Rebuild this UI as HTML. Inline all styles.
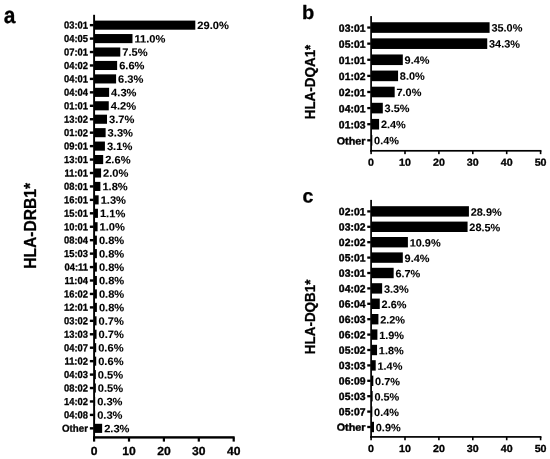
<!DOCTYPE html>
<html><head><meta charset="utf-8"><title>HLA allele frequencies</title>
<style>
html,body{margin:0;padding:0;background:#fff;}
svg{display:block;}
text{font-family:"Liberation Sans",sans-serif;font-weight:bold;fill:#000;stroke:#000;stroke-linejoin:round;}
</style></head><body>
<svg width="550" height="459" viewBox="0 0 550 459">
<rect width="550" height="459" fill="#fff"/>
<g fill="#000">
<rect x="94.10" y="20.60" width="101.21" height="9.10"/>
<rect x="89.85" y="23.95" width="3.80" height="2.4"/>
<text transform="translate(87.95,28.65) skewY(0.2) scale(0.93,1)" font-size="10.1" text-anchor="end" stroke-width="0.3">03:01</text>
<text transform="translate(197.31,28.95) skewY(0.2) scale(1.04,1)" font-size="10.7" stroke-width="0.1">29.0%</text>
<rect x="94.10" y="34.04" width="38.39" height="9.10"/>
<rect x="89.85" y="37.39" width="3.80" height="2.4"/>
<text transform="translate(87.95,42.09) skewY(0.2) scale(0.93,1)" font-size="10.1" text-anchor="end" stroke-width="0.3">04:05</text>
<text transform="translate(134.49,42.39) skewY(0.2) scale(1.04,1)" font-size="10.7" stroke-width="0.1">11.0%</text>
<rect x="94.10" y="47.48" width="26.18" height="9.10"/>
<rect x="89.85" y="50.83" width="3.80" height="2.4"/>
<text transform="translate(87.95,55.53) skewY(0.2) scale(0.93,1)" font-size="10.1" text-anchor="end" stroke-width="0.3">07:01</text>
<text transform="translate(122.27,55.83) skewY(0.2) scale(1.04,1)" font-size="10.7" stroke-width="0.1">7.5%</text>
<rect x="94.10" y="60.92" width="23.03" height="9.10"/>
<rect x="89.85" y="64.27" width="3.80" height="2.4"/>
<text transform="translate(87.95,68.97) skewY(0.2) scale(0.93,1)" font-size="10.1" text-anchor="end" stroke-width="0.3">04:02</text>
<text transform="translate(119.13,69.27) skewY(0.2) scale(1.04,1)" font-size="10.7" stroke-width="0.1">6.6%</text>
<rect x="94.10" y="74.36" width="21.99" height="9.10"/>
<rect x="89.85" y="77.71" width="3.80" height="2.4"/>
<text transform="translate(87.95,82.41) skewY(0.2) scale(0.93,1)" font-size="10.1" text-anchor="end" stroke-width="0.3">04:01</text>
<text transform="translate(118.09,82.71) skewY(0.2) scale(1.04,1)" font-size="10.7" stroke-width="0.1">6.3%</text>
<rect x="94.10" y="87.80" width="15.01" height="9.10"/>
<rect x="89.85" y="91.15" width="3.80" height="2.4"/>
<text transform="translate(87.95,95.85) skewY(0.2) scale(0.93,1)" font-size="10.1" text-anchor="end" stroke-width="0.3">04:04</text>
<text transform="translate(111.11,96.15) skewY(0.2) scale(1.04,1)" font-size="10.7" stroke-width="0.1">4.3%</text>
<rect x="94.10" y="101.24" width="14.66" height="9.10"/>
<rect x="89.85" y="104.59" width="3.80" height="2.4"/>
<text transform="translate(87.95,109.29) skewY(0.2) scale(0.93,1)" font-size="10.1" text-anchor="end" stroke-width="0.3">01:01</text>
<text transform="translate(110.76,109.59) skewY(0.2) scale(1.04,1)" font-size="10.7" stroke-width="0.1">4.2%</text>
<rect x="94.10" y="114.68" width="12.91" height="9.10"/>
<rect x="89.85" y="118.03" width="3.80" height="2.4"/>
<text transform="translate(87.95,122.73) skewY(0.2) scale(0.93,1)" font-size="10.1" text-anchor="end" stroke-width="0.3">13:02</text>
<text transform="translate(109.01,123.03) skewY(0.2) scale(1.04,1)" font-size="10.7" stroke-width="0.1">3.7%</text>
<rect x="94.10" y="128.12" width="11.52" height="9.10"/>
<rect x="89.85" y="131.47" width="3.80" height="2.4"/>
<text transform="translate(87.95,136.17) skewY(0.2) scale(0.93,1)" font-size="10.1" text-anchor="end" stroke-width="0.3">01:02</text>
<text transform="translate(107.62,136.47) skewY(0.2) scale(1.04,1)" font-size="10.7" stroke-width="0.1">3.3%</text>
<rect x="94.10" y="141.56" width="10.82" height="9.10"/>
<rect x="89.85" y="144.91" width="3.80" height="2.4"/>
<text transform="translate(87.95,149.61) skewY(0.2) scale(0.93,1)" font-size="10.1" text-anchor="end" stroke-width="0.3">09:01</text>
<text transform="translate(106.92,149.91) skewY(0.2) scale(1.04,1)" font-size="10.7" stroke-width="0.1">3.1%</text>
<rect x="94.10" y="155.00" width="9.07" height="9.10"/>
<rect x="89.85" y="158.35" width="3.80" height="2.4"/>
<text transform="translate(87.95,163.05) skewY(0.2) scale(0.93,1)" font-size="10.1" text-anchor="end" stroke-width="0.3">13:01</text>
<text transform="translate(105.17,163.35) skewY(0.2) scale(1.04,1)" font-size="10.7" stroke-width="0.1">2.6%</text>
<rect x="94.10" y="168.44" width="6.98" height="9.10"/>
<rect x="89.85" y="171.79" width="3.80" height="2.4"/>
<text transform="translate(87.95,176.49) skewY(0.2) scale(0.93,1)" font-size="10.1" text-anchor="end" stroke-width="0.3">11:01</text>
<text transform="translate(103.08,176.79) skewY(0.2) scale(1.04,1)" font-size="10.7" stroke-width="0.1">2.0%</text>
<rect x="94.10" y="181.88" width="6.28" height="9.10"/>
<rect x="89.85" y="185.23" width="3.80" height="2.4"/>
<text transform="translate(87.95,189.93) skewY(0.2) scale(0.93,1)" font-size="10.1" text-anchor="end" stroke-width="0.3">08:01</text>
<text transform="translate(102.38,190.23) skewY(0.2) scale(1.04,1)" font-size="10.7" stroke-width="0.1">1.8%</text>
<rect x="94.10" y="195.32" width="4.54" height="9.10"/>
<rect x="89.85" y="198.67" width="3.80" height="2.4"/>
<text transform="translate(87.95,203.37) skewY(0.2) scale(0.93,1)" font-size="10.1" text-anchor="end" stroke-width="0.3">16:01</text>
<text transform="translate(100.64,203.67) skewY(0.2) scale(1.04,1)" font-size="10.7" stroke-width="0.1">1.3%</text>
<rect x="94.10" y="208.76" width="3.84" height="9.10"/>
<rect x="89.85" y="212.11" width="3.80" height="2.4"/>
<text transform="translate(87.95,216.81) skewY(0.2) scale(0.93,1)" font-size="10.1" text-anchor="end" stroke-width="0.3">15:01</text>
<text transform="translate(99.94,217.11) skewY(0.2) scale(1.04,1)" font-size="10.7" stroke-width="0.1">1.1%</text>
<rect x="94.10" y="222.20" width="3.49" height="9.10"/>
<rect x="89.85" y="225.55" width="3.80" height="2.4"/>
<text transform="translate(87.95,230.25) skewY(0.2) scale(0.93,1)" font-size="10.1" text-anchor="end" stroke-width="0.3">10:01</text>
<text transform="translate(99.59,230.55) skewY(0.2) scale(1.04,1)" font-size="10.7" stroke-width="0.1">1.0%</text>
<rect x="94.10" y="235.64" width="2.79" height="9.10"/>
<rect x="89.85" y="238.99" width="3.80" height="2.4"/>
<text transform="translate(87.95,243.69) skewY(0.2) scale(0.93,1)" font-size="10.1" text-anchor="end" stroke-width="0.3">08:04</text>
<text transform="translate(98.89,243.99) skewY(0.2) scale(1.04,1)" font-size="10.7" stroke-width="0.1">0.8%</text>
<rect x="94.10" y="249.08" width="2.79" height="9.10"/>
<rect x="89.85" y="252.43" width="3.80" height="2.4"/>
<text transform="translate(87.95,257.13) skewY(0.2) scale(0.93,1)" font-size="10.1" text-anchor="end" stroke-width="0.3">15:03</text>
<text transform="translate(98.89,257.43) skewY(0.2) scale(1.04,1)" font-size="10.7" stroke-width="0.1">0.8%</text>
<rect x="94.10" y="262.52" width="2.79" height="9.10"/>
<rect x="89.85" y="265.87" width="3.80" height="2.4"/>
<text transform="translate(87.95,270.57) skewY(0.2) scale(0.93,1)" font-size="10.1" text-anchor="end" stroke-width="0.3">04:11</text>
<text transform="translate(98.89,270.87) skewY(0.2) scale(1.04,1)" font-size="10.7" stroke-width="0.1">0.8%</text>
<rect x="94.10" y="275.96" width="2.79" height="9.10"/>
<rect x="89.85" y="279.31" width="3.80" height="2.4"/>
<text transform="translate(87.95,284.01) skewY(0.2) scale(0.93,1)" font-size="10.1" text-anchor="end" stroke-width="0.3">11:04</text>
<text transform="translate(98.89,284.31) skewY(0.2) scale(1.04,1)" font-size="10.7" stroke-width="0.1">0.8%</text>
<rect x="94.10" y="289.40" width="2.79" height="9.10"/>
<rect x="89.85" y="292.75" width="3.80" height="2.4"/>
<text transform="translate(87.95,297.45) skewY(0.2) scale(0.93,1)" font-size="10.1" text-anchor="end" stroke-width="0.3">16:02</text>
<text transform="translate(98.89,297.75) skewY(0.2) scale(1.04,1)" font-size="10.7" stroke-width="0.1">0.8%</text>
<rect x="94.10" y="302.84" width="2.79" height="9.10"/>
<rect x="89.85" y="306.19" width="3.80" height="2.4"/>
<text transform="translate(87.95,310.89) skewY(0.2) scale(0.93,1)" font-size="10.1" text-anchor="end" stroke-width="0.3">12:01</text>
<text transform="translate(98.89,311.19) skewY(0.2) scale(1.04,1)" font-size="10.7" stroke-width="0.1">0.8%</text>
<rect x="94.10" y="316.28" width="2.44" height="9.10"/>
<rect x="89.85" y="319.63" width="3.80" height="2.4"/>
<text transform="translate(87.95,324.33) skewY(0.2) scale(0.93,1)" font-size="10.1" text-anchor="end" stroke-width="0.3">03:02</text>
<text transform="translate(98.54,324.63) skewY(0.2) scale(1.04,1)" font-size="10.7" stroke-width="0.1">0.7%</text>
<rect x="94.10" y="329.72" width="2.44" height="9.10"/>
<rect x="89.85" y="333.07" width="3.80" height="2.4"/>
<text transform="translate(87.95,337.77) skewY(0.2) scale(0.93,1)" font-size="10.1" text-anchor="end" stroke-width="0.3">13:03</text>
<text transform="translate(98.54,338.07) skewY(0.2) scale(1.04,1)" font-size="10.7" stroke-width="0.1">0.7%</text>
<rect x="94.10" y="343.16" width="2.09" height="9.10"/>
<rect x="89.85" y="346.51" width="3.80" height="2.4"/>
<text transform="translate(87.95,351.21) skewY(0.2) scale(0.93,1)" font-size="10.1" text-anchor="end" stroke-width="0.3">04:07</text>
<text transform="translate(98.19,351.51) skewY(0.2) scale(1.04,1)" font-size="10.7" stroke-width="0.1">0.6%</text>
<rect x="94.10" y="356.60" width="2.09" height="9.10"/>
<rect x="89.85" y="359.95" width="3.80" height="2.4"/>
<text transform="translate(87.95,364.65) skewY(0.2) scale(0.93,1)" font-size="10.1" text-anchor="end" stroke-width="0.3">11:02</text>
<text transform="translate(98.19,364.95) skewY(0.2) scale(1.04,1)" font-size="10.7" stroke-width="0.1">0.6%</text>
<rect x="94.10" y="370.04" width="1.75" height="9.10"/>
<rect x="89.85" y="373.39" width="3.80" height="2.4"/>
<text transform="translate(87.95,378.09) skewY(0.2) scale(0.93,1)" font-size="10.1" text-anchor="end" stroke-width="0.3">04:03</text>
<text transform="translate(97.84,378.39) skewY(0.2) scale(1.04,1)" font-size="10.7" stroke-width="0.1">0.5%</text>
<rect x="94.10" y="383.48" width="1.75" height="9.10"/>
<rect x="89.85" y="386.83" width="3.80" height="2.4"/>
<text transform="translate(87.95,391.53) skewY(0.2) scale(0.93,1)" font-size="10.1" text-anchor="end" stroke-width="0.3">08:02</text>
<text transform="translate(97.84,391.83) skewY(0.2) scale(1.04,1)" font-size="10.7" stroke-width="0.1">0.5%</text>
<rect x="94.10" y="396.92" width="1.05" height="9.10"/>
<rect x="89.85" y="400.27" width="3.80" height="2.4"/>
<text transform="translate(87.95,404.97) skewY(0.2) scale(0.93,1)" font-size="10.1" text-anchor="end" stroke-width="0.3">14:02</text>
<text transform="translate(97.15,405.27) skewY(0.2) scale(1.04,1)" font-size="10.7" stroke-width="0.1">0.3%</text>
<rect x="94.10" y="410.36" width="1.05" height="9.10"/>
<rect x="89.85" y="413.71" width="3.80" height="2.4"/>
<text transform="translate(87.95,418.41) skewY(0.2) scale(0.93,1)" font-size="10.1" text-anchor="end" stroke-width="0.3">04:08</text>
<text transform="translate(97.15,418.71) skewY(0.2) scale(1.04,1)" font-size="10.7" stroke-width="0.1">0.3%</text>
<rect x="94.10" y="423.80" width="8.03" height="9.10"/>
<rect x="89.85" y="427.15" width="3.80" height="2.4"/>
<text transform="translate(87.95,431.85) skewY(0.2) scale(0.96255,1)" font-size="10.1" text-anchor="end" stroke-width="0.3">Other</text>
<text transform="translate(104.13,432.15) skewY(0.2) scale(1.04,1)" font-size="10.7" stroke-width="0.1">2.3%</text>
<rect x="93.15" y="14.80" width="1.90" height="423.80"/>
<rect x="93.15" y="436.20" width="141.50" height="2.40"/>
<rect x="93.00" y="437.40" width="2.2" height="4.20"/>
<text transform="translate(94.10,454.90) skewY(0.2) scale(1.03,1)" font-size="11.8" text-anchor="middle" stroke-width="0.3">0</text>
<rect x="127.90" y="437.40" width="2.2" height="4.20"/>
<text transform="translate(129.00,454.90) skewY(0.2) scale(1.03,1)" font-size="11.8" text-anchor="middle" stroke-width="0.3">10</text>
<rect x="162.80" y="437.40" width="2.2" height="4.20"/>
<text transform="translate(163.90,454.90) skewY(0.2) scale(1.03,1)" font-size="11.8" text-anchor="middle" stroke-width="0.3">20</text>
<rect x="197.70" y="437.40" width="2.2" height="4.20"/>
<text transform="translate(198.80,454.90) skewY(0.2) scale(1.03,1)" font-size="11.8" text-anchor="middle" stroke-width="0.3">30</text>
<rect x="232.60" y="437.40" width="2.2" height="4.20"/>
<text transform="translate(233.70,454.90) skewY(0.2) scale(1.03,1)" font-size="11.8" text-anchor="middle" stroke-width="0.3">40</text>
<rect x="371.10" y="22.25" width="118.50" height="10.60"/>
<rect x="367.25" y="26.40" width="3.50" height="2.3"/>
<text transform="translate(365.45,31.75) skewY(0.2)" font-size="10.4" text-anchor="end" stroke-width="0.4">03:01</text>
<text transform="translate(491.40,31.45) skewY(0.2) scale(1.03,1)" font-size="10.6" stroke-width="0.1">35.0%</text>
<rect x="371.10" y="38.36" width="116.13" height="10.60"/>
<rect x="367.25" y="42.51" width="3.50" height="2.3"/>
<text transform="translate(365.45,47.86) skewY(0.2)" font-size="10.4" text-anchor="end" stroke-width="0.4">05:01</text>
<text transform="translate(489.03,47.56) skewY(0.2) scale(1.03,1)" font-size="10.6" stroke-width="0.1">34.3%</text>
<rect x="371.10" y="54.47" width="31.72" height="10.60"/>
<rect x="367.25" y="58.62" width="3.50" height="2.3"/>
<text transform="translate(365.45,63.97) skewY(0.2)" font-size="10.4" text-anchor="end" stroke-width="0.4">01:01</text>
<text transform="translate(404.62,63.67) skewY(0.2) scale(1.03,1)" font-size="10.6" stroke-width="0.1">9.4%</text>
<rect x="371.10" y="70.58" width="26.97" height="10.60"/>
<rect x="367.25" y="74.73" width="3.50" height="2.3"/>
<text transform="translate(365.45,80.08) skewY(0.2)" font-size="10.4" text-anchor="end" stroke-width="0.4">01:02</text>
<text transform="translate(399.87,79.78) skewY(0.2) scale(1.03,1)" font-size="10.6" stroke-width="0.1">8.0%</text>
<rect x="371.10" y="86.69" width="23.58" height="10.60"/>
<rect x="367.25" y="90.84" width="3.50" height="2.3"/>
<text transform="translate(365.45,96.19) skewY(0.2)" font-size="10.4" text-anchor="end" stroke-width="0.4">02:01</text>
<text transform="translate(396.48,95.89) skewY(0.2) scale(1.03,1)" font-size="10.6" stroke-width="0.1">7.0%</text>
<rect x="371.10" y="102.80" width="11.71" height="10.60"/>
<rect x="367.25" y="106.95" width="3.50" height="2.3"/>
<text transform="translate(365.45,112.30) skewY(0.2)" font-size="10.4" text-anchor="end" stroke-width="0.4">04:01</text>
<text transform="translate(384.62,112.00) skewY(0.2) scale(1.03,1)" font-size="10.6" stroke-width="0.1">3.5%</text>
<rect x="371.10" y="118.91" width="7.99" height="10.60"/>
<rect x="367.25" y="123.06" width="3.50" height="2.3"/>
<text transform="translate(365.45,128.41) skewY(0.2)" font-size="10.4" text-anchor="end" stroke-width="0.4">01:03</text>
<text transform="translate(380.89,128.11) skewY(0.2) scale(1.03,1)" font-size="10.6" stroke-width="0.1">2.4%</text>
<rect x="371.10" y="135.02" width="1.21" height="10.60"/>
<rect x="367.25" y="139.17" width="3.50" height="2.3"/>
<text transform="translate(365.45,144.52) skewY(0.2) scale(1.035,1)" font-size="10.4" text-anchor="end" stroke-width="0.4">Other</text>
<text transform="translate(374.11,144.22) skewY(0.2) scale(1.03,1)" font-size="10.6" stroke-width="0.1">0.4%</text>
<rect x="370.25" y="16.10" width="1.70" height="135.55"/>
<rect x="370.25" y="149.95" width="171.20" height="1.70"/>
<rect x="370.30" y="150.80" width="1.6" height="3.35"/>
<text transform="translate(371.10,165.70) skewY(0.2) scale(1.04,1)" font-size="10.3" text-anchor="middle" stroke-width="0.3">0</text>
<rect x="404.20" y="150.80" width="1.6" height="3.35"/>
<text transform="translate(405.00,165.70) skewY(0.2) scale(1.04,1)" font-size="10.3" text-anchor="middle" stroke-width="0.3">10</text>
<rect x="438.10" y="150.80" width="1.6" height="3.35"/>
<text transform="translate(438.90,165.70) skewY(0.2) scale(1.04,1)" font-size="10.3" text-anchor="middle" stroke-width="0.3">20</text>
<rect x="472.00" y="150.80" width="1.6" height="3.35"/>
<text transform="translate(472.80,165.70) skewY(0.2) scale(1.04,1)" font-size="10.3" text-anchor="middle" stroke-width="0.3">30</text>
<rect x="505.90" y="150.80" width="1.6" height="3.35"/>
<text transform="translate(506.70,165.70) skewY(0.2) scale(1.04,1)" font-size="10.3" text-anchor="middle" stroke-width="0.3">40</text>
<rect x="539.80" y="150.80" width="1.6" height="3.35"/>
<text transform="translate(540.60,165.70) skewY(0.2) scale(1.04,1)" font-size="10.3" text-anchor="middle" stroke-width="0.3">50</text>
<rect x="371.10" y="206.20" width="97.82" height="10.40"/>
<rect x="367.25" y="210.25" width="3.50" height="2.3"/>
<text transform="translate(365.45,215.20) skewY(0.2)" font-size="10.4" text-anchor="end" stroke-width="0.4">02:01</text>
<text transform="translate(470.72,215.70) skewY(0.2) scale(1.03,1)" font-size="10.6" stroke-width="0.1">28.9%</text>
<rect x="371.10" y="221.60" width="96.47" height="10.40"/>
<rect x="367.25" y="225.65" width="3.50" height="2.3"/>
<text transform="translate(365.45,230.60) skewY(0.2)" font-size="10.4" text-anchor="end" stroke-width="0.4">03:02</text>
<text transform="translate(469.37,231.10) skewY(0.2) scale(1.03,1)" font-size="10.6" stroke-width="0.1">28.5%</text>
<rect x="371.10" y="237.00" width="36.80" height="10.40"/>
<rect x="367.25" y="241.05" width="3.50" height="2.3"/>
<text transform="translate(365.45,246.00) skewY(0.2)" font-size="10.4" text-anchor="end" stroke-width="0.4">02:02</text>
<text transform="translate(409.70,246.50) skewY(0.2) scale(1.03,1)" font-size="10.6" stroke-width="0.1">10.9%</text>
<rect x="371.10" y="252.40" width="31.72" height="10.40"/>
<rect x="367.25" y="256.45" width="3.50" height="2.3"/>
<text transform="translate(365.45,261.40) skewY(0.2)" font-size="10.4" text-anchor="end" stroke-width="0.4">05:01</text>
<text transform="translate(404.62,261.90) skewY(0.2) scale(1.03,1)" font-size="10.6" stroke-width="0.1">9.4%</text>
<rect x="371.10" y="267.80" width="22.56" height="10.40"/>
<rect x="367.25" y="271.85" width="3.50" height="2.3"/>
<text transform="translate(365.45,276.80) skewY(0.2)" font-size="10.4" text-anchor="end" stroke-width="0.4">03:01</text>
<text transform="translate(395.46,277.30) skewY(0.2) scale(1.03,1)" font-size="10.6" stroke-width="0.1">6.7%</text>
<rect x="371.10" y="283.20" width="11.04" height="10.40"/>
<rect x="367.25" y="287.25" width="3.50" height="2.3"/>
<text transform="translate(365.45,292.20) skewY(0.2)" font-size="10.4" text-anchor="end" stroke-width="0.4">04:02</text>
<text transform="translate(383.94,292.70) skewY(0.2) scale(1.03,1)" font-size="10.6" stroke-width="0.1">3.3%</text>
<rect x="371.10" y="298.60" width="8.66" height="10.40"/>
<rect x="367.25" y="302.65" width="3.50" height="2.3"/>
<text transform="translate(365.45,307.60) skewY(0.2)" font-size="10.4" text-anchor="end" stroke-width="0.4">06:04</text>
<text transform="translate(381.56,308.10) skewY(0.2) scale(1.03,1)" font-size="10.6" stroke-width="0.1">2.6%</text>
<rect x="371.10" y="314.00" width="7.31" height="10.40"/>
<rect x="367.25" y="318.05" width="3.50" height="2.3"/>
<text transform="translate(365.45,323.00) skewY(0.2)" font-size="10.4" text-anchor="end" stroke-width="0.4">06:03</text>
<text transform="translate(380.21,323.50) skewY(0.2) scale(1.03,1)" font-size="10.6" stroke-width="0.1">2.2%</text>
<rect x="371.10" y="329.40" width="6.29" height="10.40"/>
<rect x="367.25" y="333.45" width="3.50" height="2.3"/>
<text transform="translate(365.45,338.40) skewY(0.2)" font-size="10.4" text-anchor="end" stroke-width="0.4">06:02</text>
<text transform="translate(379.19,338.90) skewY(0.2) scale(1.03,1)" font-size="10.6" stroke-width="0.1">1.9%</text>
<rect x="371.10" y="344.80" width="5.95" height="10.40"/>
<rect x="367.25" y="348.85" width="3.50" height="2.3"/>
<text transform="translate(365.45,353.80) skewY(0.2)" font-size="10.4" text-anchor="end" stroke-width="0.4">05:02</text>
<text transform="translate(378.85,354.30) skewY(0.2) scale(1.03,1)" font-size="10.6" stroke-width="0.1">1.8%</text>
<rect x="371.10" y="360.20" width="4.60" height="10.40"/>
<rect x="367.25" y="364.25" width="3.50" height="2.3"/>
<text transform="translate(365.45,369.20) skewY(0.2)" font-size="10.4" text-anchor="end" stroke-width="0.4">03:03</text>
<text transform="translate(377.50,369.70) skewY(0.2) scale(1.03,1)" font-size="10.6" stroke-width="0.1">1.4%</text>
<rect x="371.10" y="375.60" width="2.22" height="10.40"/>
<rect x="367.25" y="379.65" width="3.50" height="2.3"/>
<text transform="translate(365.45,384.60) skewY(0.2)" font-size="10.4" text-anchor="end" stroke-width="0.4">06:09</text>
<text transform="translate(375.12,385.10) skewY(0.2) scale(1.03,1)" font-size="10.6" stroke-width="0.1">0.7%</text>
<rect x="371.10" y="391.00" width="1.55" height="10.40"/>
<rect x="367.25" y="395.05" width="3.50" height="2.3"/>
<text transform="translate(365.45,400.00) skewY(0.2)" font-size="10.4" text-anchor="end" stroke-width="0.4">05:03</text>
<text transform="translate(374.45,400.50) skewY(0.2) scale(1.03,1)" font-size="10.6" stroke-width="0.1">0.5%</text>
<rect x="371.10" y="406.40" width="1.21" height="10.40"/>
<rect x="367.25" y="410.45" width="3.50" height="2.3"/>
<text transform="translate(365.45,415.40) skewY(0.2)" font-size="10.4" text-anchor="end" stroke-width="0.4">05:07</text>
<text transform="translate(374.11,415.90) skewY(0.2) scale(1.03,1)" font-size="10.6" stroke-width="0.1">0.4%</text>
<rect x="371.10" y="421.80" width="2.90" height="10.40"/>
<rect x="367.25" y="425.85" width="3.50" height="2.3"/>
<text transform="translate(365.45,430.80) skewY(0.2) scale(1.035,1)" font-size="10.4" text-anchor="end" stroke-width="0.4">Other</text>
<text transform="translate(375.80,431.30) skewY(0.2) scale(1.03,1)" font-size="10.6" stroke-width="0.1">0.9%</text>
<rect x="370.25" y="199.90" width="1.70" height="237.85"/>
<rect x="370.25" y="436.05" width="171.20" height="1.70"/>
<rect x="370.30" y="436.90" width="1.6" height="3.35"/>
<text transform="translate(371.10,452.10) skewY(0.2) scale(1.04,1)" font-size="10.3" text-anchor="middle" stroke-width="0.3">0</text>
<rect x="404.20" y="436.90" width="1.6" height="3.35"/>
<text transform="translate(405.00,452.10) skewY(0.2) scale(1.04,1)" font-size="10.3" text-anchor="middle" stroke-width="0.3">10</text>
<rect x="438.10" y="436.90" width="1.6" height="3.35"/>
<text transform="translate(438.90,452.10) skewY(0.2) scale(1.04,1)" font-size="10.3" text-anchor="middle" stroke-width="0.3">20</text>
<rect x="472.00" y="436.90" width="1.6" height="3.35"/>
<text transform="translate(472.80,452.10) skewY(0.2) scale(1.04,1)" font-size="10.3" text-anchor="middle" stroke-width="0.3">30</text>
<rect x="505.90" y="436.90" width="1.6" height="3.35"/>
<text transform="translate(506.70,452.10) skewY(0.2) scale(1.04,1)" font-size="10.3" text-anchor="middle" stroke-width="0.3">40</text>
<rect x="539.80" y="436.90" width="1.6" height="3.35"/>
<text transform="translate(540.60,452.10) skewY(0.2) scale(1.04,1)" font-size="10.3" text-anchor="middle" stroke-width="0.3">50</text>
<text transform="translate(3.70,22.90) skewY(0.2) scale(0.92,1)" font-size="22.8" stroke-width="0.3">a</text>
<text transform="translate(302.10,18.90) skewY(0.2) scale(1.03,1)" font-size="19.5" stroke-width="0.3">b</text>
<text transform="translate(302.60,202.50) skewY(0.2)" font-size="19.5" stroke-width="0.3">c</text>
<text transform="translate(35.8,268.7) rotate(-90) scale(0.975,1)" font-size="16.0" stroke-width="0.3">HLA-DRB1*</text>
<text transform="translate(315.1,119.3) rotate(-90) scale(0.968,1)" font-size="13.9" stroke-width="0.3">HLA-DQA1*</text>
<text transform="translate(315.1,354.2) rotate(-90) scale(0.968,1)" font-size="13.9" stroke-width="0.3">HLA-DQB1*</text>
</g>
</svg>
</body></html>
